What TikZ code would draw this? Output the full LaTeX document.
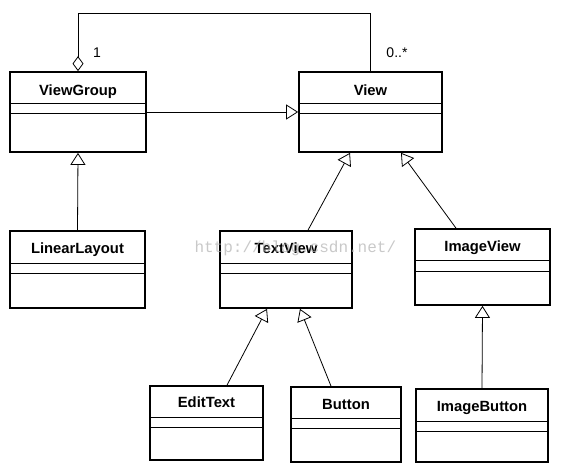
\documentclass[tikz,border=0pt]{standalone}
\usepackage{fontspec}
\setmainfont{Liberation Sans}
\newfontfamily\wmfont{Liberation Mono}
\usetikzlibrary{arrows.meta}
\begin{document}
\begin{tikzpicture}[x=1pt, y=-1pt,
		umlclass/.style={draw, line width=1.7pt, fill=white, inner sep=0pt},
		umltitle/.style={anchor=base, font=\bfseries\fontsize{14.8}{16}\selectfont},
		divider/.style={line width=0.8pt},
		generalize/.style={line width=0.8pt, -{Triangle[open, length=12pt, width=15pt]}},
		aggregate/.style={line width=0.8pt, {Diamond[open, length=15pt, width=11pt]}-},
		mult/.style={font=\fontsize{14}{16}\selectfont}]
		\useasboundingbox (0,0) rectangle (575,470);
		% class boxes
		\node[umlclass, minimum width=136pt, minimum height=80pt] (viewgroup) at (78,112) {};
		\node[umlclass, minimum width=143pt, minimum height=80pt] (view) at (370.5,112) {};
		\node[umlclass, minimum width=135pt, minimum height=77pt] (linearlayout) at (77.5,269.5) {};
		\node[umlclass, minimum width=132pt, minimum height=77pt] (textview) at (286,269.5) {};
		\node[umlclass, minimum width=135pt, minimum height=76pt] (imageview) at (482.5,267) {};
		\node[umlclass, minimum width=113pt, minimum height=74pt] (edittext) at (206.5,423) {};
		\node[umlclass, minimum width=110pt, minimum height=75pt] (button) at (346,424.5) {};
		\node[umlclass, minimum width=132pt, minimum height=73pt] (imagebutton) at (482,425.5) {};
		% titles and compartments
		\node[umltitle] (viewgroup-t) at ([yshift=-24pt]viewgroup.north) {ViewGroup};
		\draw[divider] ([yshift=-32pt]viewgroup.north west) -- ([yshift=-32pt]viewgroup.north east);
		\draw[divider] ([yshift=-42pt]viewgroup.north west) -- ([yshift=-42pt]viewgroup.north east);
		\node[umltitle] (view-t) at ([yshift=-24pt]view.north) {View};
		\draw[divider] ([yshift=-32pt]view.north west) -- ([yshift=-32pt]view.north east);
		\draw[divider] ([yshift=-42pt]view.north west) -- ([yshift=-42pt]view.north east);
		\node[umltitle] (linearlayout-t) at ([yshift=-23pt]linearlayout.north) {LinearLayout};
		\draw[divider] ([yshift=-33pt]linearlayout.north west) -- ([yshift=-33pt]linearlayout.north east);
		\draw[divider] ([yshift=-43pt]linearlayout.north west) -- ([yshift=-43pt]linearlayout.north east);
		\node[umltitle] (textview-t) at ([yshift=-23pt]textview.north) {TextView};
		\draw[divider] ([yshift=-33pt]textview.north west) -- ([yshift=-33pt]textview.north east);
		\draw[divider] ([yshift=-43pt]textview.north west) -- ([yshift=-43pt]textview.north east);
		\node[umltitle] (imageview-t) at ([yshift=-23pt]imageview.north) {ImageView};
		\draw[divider] ([yshift=-32pt]imageview.north west) -- ([yshift=-32pt]imageview.north east);
		\draw[divider] ([yshift=-43pt]imageview.north west) -- ([yshift=-43pt]imageview.north east);
		\node[umltitle] (edittext-t) at ([yshift=-22pt]edittext.north) {EditText};
		\draw[divider] ([yshift=-32pt]edittext.north west) -- ([yshift=-32pt]edittext.north east);
		\draw[divider] ([yshift=-42pt]edittext.north west) -- ([yshift=-42pt]edittext.north east);
		\node[umltitle] (button-t) at ([yshift=-23pt]button.north) {Button};
		\draw[divider] ([yshift=-32pt]button.north west) -- ([yshift=-32pt]button.north east);
		\draw[divider] ([yshift=-42pt]button.north west) -- ([yshift=-42pt]button.north east);
		\node[umltitle] (imagebutton-t) at ([yshift=-23pt]imagebutton.north) {ImageButton};
		\draw[divider] ([yshift=-33pt]imagebutton.north west) -- ([yshift=-33pt]imagebutton.north east);
		\draw[divider] ([yshift=-43pt]imagebutton.north west) -- ([yshift=-43pt]imagebutton.north east);
		% aggregation
		\coordinate (top) at (0,13);
		\draw[aggregate] (viewgroup.north) -- (viewgroup.north |- top) -- (view.north |- top) -- (view.north);
		\node[mult] (one) at (97,53) {1};
		\node[mult] (many) at (397,53) {0..*};
		% generalizations
		\draw[generalize] (viewgroup.east) -- (view.west);
		\draw[generalize] (linearlayout.north) -- (viewgroup.south);
		\draw[generalize] ([xshift=22pt]textview.north) -- ([xshift=-20.5pt]view.south);
		\draw[generalize] ([xshift=-26.5pt]imageview.north) -- ([xshift=30.5pt]view.south);
		\draw[generalize] ([xshift=20.5pt]edittext.north) -- ([xshift=-19pt]textview.south);
		\draw[generalize] ([xshift=-15pt]button.north) -- ([xshift=14pt]textview.south);
		\draw[generalize] (imagebutton.north) -- (imageview.south);
		% watermark
		\node[anchor=base west, text=black!30, opacity=0.7, font=\wmfont\fontsize{16}{18}\selectfont] (mark) at (191,252) {http://blog.csdn.net/};
\end{tikzpicture}
\end{document}
